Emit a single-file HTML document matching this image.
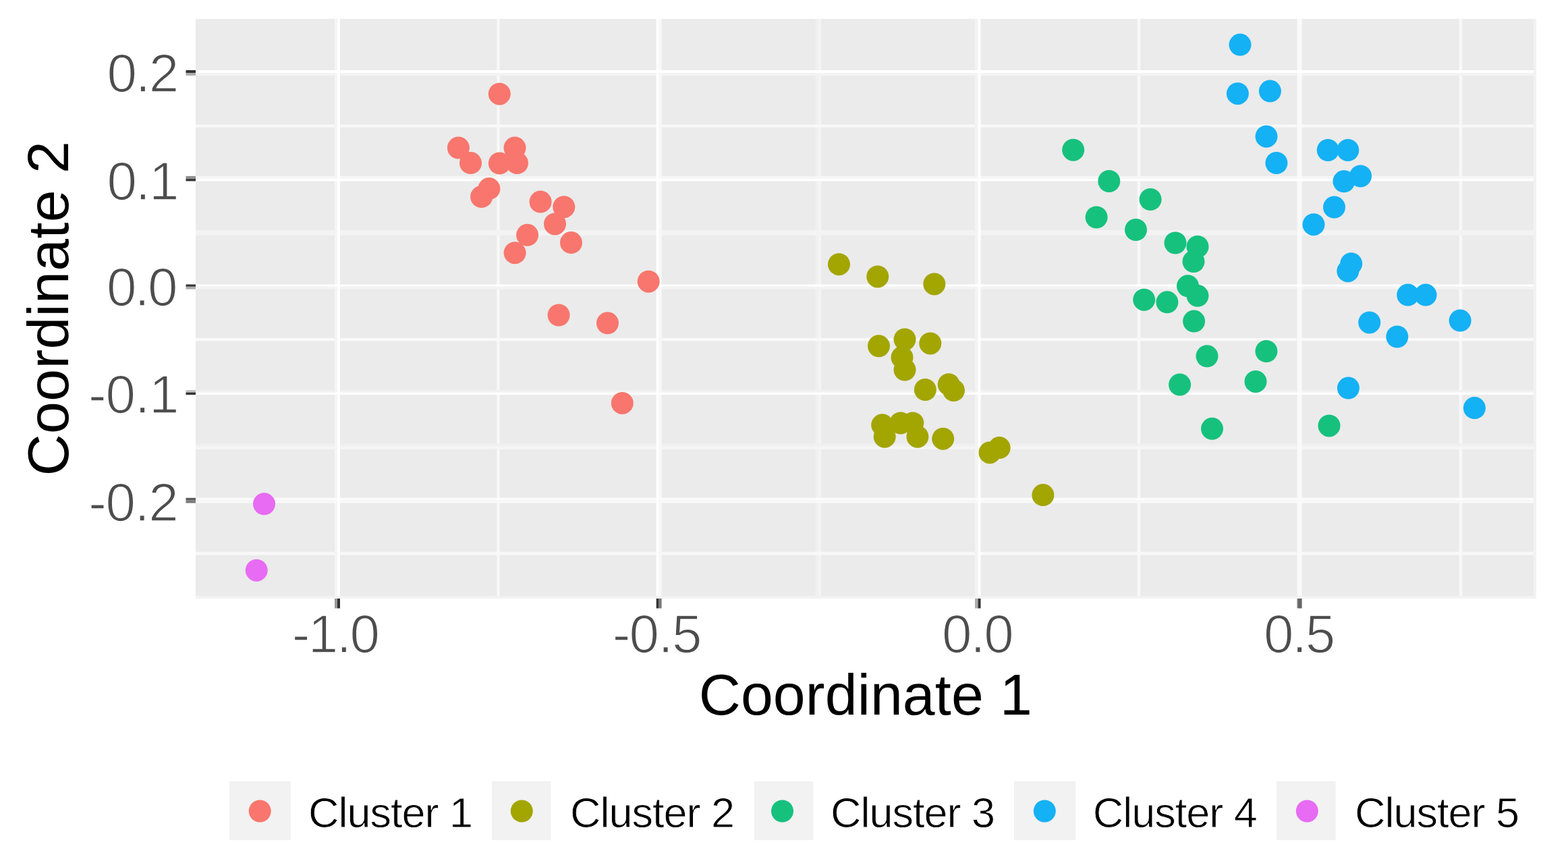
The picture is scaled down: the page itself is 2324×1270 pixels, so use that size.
<!DOCTYPE html>
<html><head><meta charset="utf-8"><title>Coordinate plot</title>
<style>html,body{margin:0;padding:0;background:#fff;}body{width:2324px;height:1270px;overflow:hidden;}svg{display:block;}text{font-family:"Liberation Sans",Arial,sans-serif;}</style>
</head><body>
<svg width="2324" height="1270" viewBox="0 0 2324 1270">
<rect x="0" y="0" width="2324" height="1270" fill="#FFFFFF"/>
<rect x="290" y="28" width="1987" height="859" fill="#EBEBEB"/>
<rect x="2273" y="28" width="4" height="859" fill="#F2F2F2"/>
<rect x="290" y="883" width="1987" height="4" fill="#F2F2F2"/>
<rect x="736.0" y="28" width="2.0" height="855" fill="#F5F5F5"/>
<rect x="738.0" y="28" width="2.4" height="855" fill="#FAFAFA"/>
<rect x="1208.6" y="28" width="4.1" height="855" fill="#F0F0F0"/>
<rect x="1212.7" y="28" width="4.5" height="855" fill="#F4F4F4"/>
<rect x="1685.8" y="28" width="4.5" height="855" fill="#F8F8F8"/>
<rect x="2161.9" y="28" width="1.1" height="855" fill="#EFEFEF"/>
<rect x="2163.0" y="28" width="4.2" height="855" fill="#F8F8F8"/>
<rect x="290" y="184.6" width="1983" height="4.2" fill="#F9F9F9"/>
<rect x="290" y="340.9" width="1983" height="8.0" fill="#F3F3F3"/>
<rect x="290" y="500.9" width="1983" height="4.3" fill="#F9F9F9"/>
<rect x="290" y="657.3" width="1983" height="4.2" fill="#F0F0F0"/>
<rect x="290" y="661.5" width="1983" height="4.3" fill="#F5F5F5"/>
<rect x="290" y="817.8" width="1983" height="4.8" fill="#F8F8F8"/>
<rect x="496.0" y="28" width="4.0" height="855" fill="#F5F5F5"/>
<rect x="500.0" y="28" width="4.0" height="855" fill="#FFFFFF"/>
<rect x="972.7" y="28" width="3.3" height="855" fill="#FFFFFF"/>
<rect x="976.0" y="28" width="4.0" height="855" fill="#F8F8F8"/>
<rect x="980.0" y="28" width="1.0" height="855" fill="#F3F3F3"/>
<rect x="1445.0" y="28" width="4.5" height="855" fill="#F3F3F3"/>
<rect x="1449.5" y="28" width="4.0" height="855" fill="#FFFFFF"/>
<rect x="1922.0" y="28" width="1.2" height="855" fill="#F2F2F2"/>
<rect x="1923.2" y="28" width="6.4" height="855" fill="#FAFAFA"/>
<rect x="290" y="104.0" width="1983" height="4.0" fill="#FFFFFF"/>
<rect x="290" y="108.0" width="1983" height="4.0" fill="#F3F3F3"/>
<rect x="290" y="260.9" width="1983" height="4.2" fill="#F6F6F6"/>
<rect x="290" y="265.1" width="1983" height="3.3" fill="#FFFFFF"/>
<rect x="290" y="421.5" width="1983" height="3.3" fill="#FFFFFF"/>
<rect x="290" y="424.8" width="1983" height="3.8" fill="#F3F3F3"/>
<rect x="290" y="578.0" width="1983" height="3.5" fill="#F1F1F1"/>
<rect x="290" y="581.5" width="1983" height="3.5" fill="#FFFFFF"/>
<rect x="290" y="737.8" width="1983" height="3.7" fill="#FBFBFB"/>
<rect x="290" y="741.5" width="1983" height="4.0" fill="#F8F8F8"/>
<rect x="496.0" y="104.0" width="4.0" height="4.0" fill="#FFFFFF"/>
<rect x="496.0" y="108.0" width="4.0" height="4.0" fill="#F5F5F5"/>
<rect x="500.0" y="104.0" width="4.0" height="4.0" fill="#FFFFFF"/>
<rect x="500.0" y="108.0" width="4.0" height="4.0" fill="#FFFFFF"/>
<rect x="496.0" y="260.9" width="4.0" height="4.2" fill="#F6F6F6"/>
<rect x="496.0" y="265.1" width="4.0" height="3.3" fill="#FFFFFF"/>
<rect x="500.0" y="260.9" width="4.0" height="4.2" fill="#FFFFFF"/>
<rect x="500.0" y="265.1" width="4.0" height="3.3" fill="#FFFFFF"/>
<rect x="496.0" y="421.5" width="4.0" height="3.3" fill="#FFFFFF"/>
<rect x="496.0" y="424.8" width="4.0" height="3.8" fill="#F5F5F5"/>
<rect x="500.0" y="421.5" width="4.0" height="3.3" fill="#FFFFFF"/>
<rect x="500.0" y="424.8" width="4.0" height="3.8" fill="#FFFFFF"/>
<rect x="496.0" y="578.0" width="4.0" height="3.5" fill="#F5F5F5"/>
<rect x="496.0" y="581.5" width="4.0" height="3.5" fill="#FFFFFF"/>
<rect x="500.0" y="578.0" width="4.0" height="3.5" fill="#FFFFFF"/>
<rect x="500.0" y="581.5" width="4.0" height="3.5" fill="#FFFFFF"/>
<rect x="496.0" y="737.8" width="4.0" height="3.7" fill="#FBFBFB"/>
<rect x="496.0" y="741.5" width="4.0" height="4.0" fill="#F8F8F8"/>
<rect x="500.0" y="737.8" width="4.0" height="3.7" fill="#FFFFFF"/>
<rect x="500.0" y="741.5" width="4.0" height="4.0" fill="#FFFFFF"/>
<rect x="972.7" y="104.0" width="3.3" height="4.0" fill="#FFFFFF"/>
<rect x="972.7" y="108.0" width="3.3" height="4.0" fill="#FFFFFF"/>
<rect x="976.0" y="104.0" width="4.0" height="4.0" fill="#FFFFFF"/>
<rect x="976.0" y="108.0" width="4.0" height="4.0" fill="#F8F8F8"/>
<rect x="980.0" y="104.0" width="1.0" height="4.0" fill="#FFFFFF"/>
<rect x="980.0" y="108.0" width="1.0" height="4.0" fill="#F3F3F3"/>
<rect x="972.7" y="260.9" width="3.3" height="4.2" fill="#FFFFFF"/>
<rect x="972.7" y="265.1" width="3.3" height="3.3" fill="#FFFFFF"/>
<rect x="976.0" y="260.9" width="4.0" height="4.2" fill="#F8F8F8"/>
<rect x="976.0" y="265.1" width="4.0" height="3.3" fill="#FFFFFF"/>
<rect x="980.0" y="260.9" width="1.0" height="4.2" fill="#F6F6F6"/>
<rect x="980.0" y="265.1" width="1.0" height="3.3" fill="#FFFFFF"/>
<rect x="972.7" y="421.5" width="3.3" height="3.3" fill="#FFFFFF"/>
<rect x="972.7" y="424.8" width="3.3" height="3.8" fill="#FFFFFF"/>
<rect x="976.0" y="421.5" width="4.0" height="3.3" fill="#FFFFFF"/>
<rect x="976.0" y="424.8" width="4.0" height="3.8" fill="#F8F8F8"/>
<rect x="980.0" y="421.5" width="1.0" height="3.3" fill="#FFFFFF"/>
<rect x="980.0" y="424.8" width="1.0" height="3.8" fill="#F3F3F3"/>
<rect x="972.7" y="578.0" width="3.3" height="3.5" fill="#FFFFFF"/>
<rect x="972.7" y="581.5" width="3.3" height="3.5" fill="#FFFFFF"/>
<rect x="976.0" y="578.0" width="4.0" height="3.5" fill="#F8F8F8"/>
<rect x="976.0" y="581.5" width="4.0" height="3.5" fill="#FFFFFF"/>
<rect x="980.0" y="578.0" width="1.0" height="3.5" fill="#F3F3F3"/>
<rect x="980.0" y="581.5" width="1.0" height="3.5" fill="#FFFFFF"/>
<rect x="972.7" y="737.8" width="3.3" height="3.7" fill="#FFFFFF"/>
<rect x="972.7" y="741.5" width="3.3" height="4.0" fill="#FFFFFF"/>
<rect x="976.0" y="737.8" width="4.0" height="3.7" fill="#FBFBFB"/>
<rect x="976.0" y="741.5" width="4.0" height="4.0" fill="#F8F8F8"/>
<rect x="980.0" y="737.8" width="1.0" height="3.7" fill="#FBFBFB"/>
<rect x="980.0" y="741.5" width="1.0" height="4.0" fill="#F8F8F8"/>
<rect x="1445.0" y="104.0" width="4.5" height="4.0" fill="#FFFFFF"/>
<rect x="1445.0" y="108.0" width="4.5" height="4.0" fill="#F3F3F3"/>
<rect x="1449.5" y="104.0" width="4.0" height="4.0" fill="#FFFFFF"/>
<rect x="1449.5" y="108.0" width="4.0" height="4.0" fill="#FFFFFF"/>
<rect x="1445.0" y="260.9" width="4.5" height="4.2" fill="#F6F6F6"/>
<rect x="1445.0" y="265.1" width="4.5" height="3.3" fill="#FFFFFF"/>
<rect x="1449.5" y="260.9" width="4.0" height="4.2" fill="#FFFFFF"/>
<rect x="1449.5" y="265.1" width="4.0" height="3.3" fill="#FFFFFF"/>
<rect x="1445.0" y="421.5" width="4.5" height="3.3" fill="#FFFFFF"/>
<rect x="1445.0" y="424.8" width="4.5" height="3.8" fill="#F3F3F3"/>
<rect x="1449.5" y="421.5" width="4.0" height="3.3" fill="#FFFFFF"/>
<rect x="1449.5" y="424.8" width="4.0" height="3.8" fill="#FFFFFF"/>
<rect x="1445.0" y="578.0" width="4.5" height="3.5" fill="#F3F3F3"/>
<rect x="1445.0" y="581.5" width="4.5" height="3.5" fill="#FFFFFF"/>
<rect x="1449.5" y="578.0" width="4.0" height="3.5" fill="#FFFFFF"/>
<rect x="1449.5" y="581.5" width="4.0" height="3.5" fill="#FFFFFF"/>
<rect x="1445.0" y="737.8" width="4.5" height="3.7" fill="#FBFBFB"/>
<rect x="1445.0" y="741.5" width="4.5" height="4.0" fill="#F8F8F8"/>
<rect x="1449.5" y="737.8" width="4.0" height="3.7" fill="#FFFFFF"/>
<rect x="1449.5" y="741.5" width="4.0" height="4.0" fill="#FFFFFF"/>
<rect x="1922.0" y="104.0" width="1.2" height="4.0" fill="#FFFFFF"/>
<rect x="1922.0" y="108.0" width="1.2" height="4.0" fill="#F3F3F3"/>
<rect x="1923.2" y="104.0" width="6.4" height="4.0" fill="#FFFFFF"/>
<rect x="1923.2" y="108.0" width="6.4" height="4.0" fill="#FAFAFA"/>
<rect x="1922.0" y="260.9" width="1.2" height="4.2" fill="#F6F6F6"/>
<rect x="1922.0" y="265.1" width="1.2" height="3.3" fill="#FFFFFF"/>
<rect x="1923.2" y="260.9" width="6.4" height="4.2" fill="#FAFAFA"/>
<rect x="1923.2" y="265.1" width="6.4" height="3.3" fill="#FFFFFF"/>
<rect x="1922.0" y="421.5" width="1.2" height="3.3" fill="#FFFFFF"/>
<rect x="1922.0" y="424.8" width="1.2" height="3.8" fill="#F3F3F3"/>
<rect x="1923.2" y="421.5" width="6.4" height="3.3" fill="#FFFFFF"/>
<rect x="1923.2" y="424.8" width="6.4" height="3.8" fill="#FAFAFA"/>
<rect x="1922.0" y="578.0" width="1.2" height="3.5" fill="#F2F2F2"/>
<rect x="1922.0" y="581.5" width="1.2" height="3.5" fill="#FFFFFF"/>
<rect x="1923.2" y="578.0" width="6.4" height="3.5" fill="#FAFAFA"/>
<rect x="1923.2" y="581.5" width="6.4" height="3.5" fill="#FFFFFF"/>
<rect x="1922.0" y="737.8" width="1.2" height="3.7" fill="#FBFBFB"/>
<rect x="1922.0" y="741.5" width="1.2" height="4.0" fill="#F8F8F8"/>
<rect x="1923.2" y="737.8" width="6.4" height="3.7" fill="#FBFBFB"/>
<rect x="1923.2" y="741.5" width="6.4" height="4.0" fill="#FAFAFA"/>
<g fill="#F8766D">
<circle cx="740.3" cy="139.2" r="16.50"/>
<circle cx="679.4" cy="219.1" r="16.50"/>
<circle cx="697.5" cy="241.6" r="16.50"/>
<circle cx="763.0" cy="219.1" r="16.50"/>
<circle cx="740.4" cy="242.0" r="16.50"/>
<circle cx="766.5" cy="241.6" r="16.50"/>
<circle cx="724.9" cy="279.6" r="16.50"/>
<circle cx="713.6" cy="291.6" r="16.50"/>
<circle cx="801.1" cy="299.1" r="16.50"/>
<circle cx="835.8" cy="306.7" r="16.50"/>
<circle cx="822.5" cy="331.9" r="16.50"/>
<circle cx="846.5" cy="359.6" r="16.50"/>
<circle cx="781.6" cy="348.3" r="16.50"/>
<circle cx="763.1" cy="374.7" r="16.50"/>
<circle cx="961.2" cy="417.2" r="16.50"/>
<circle cx="828.1" cy="467.0" r="16.50"/>
<circle cx="900.5" cy="478.8" r="16.50"/>
<circle cx="922.3" cy="597.4" r="16.50"/>
</g>
<g fill="#A3A500">
<circle cx="1243.5" cy="391.7" r="16.50"/>
<circle cx="1300.8" cy="409.9" r="16.50"/>
<circle cx="1384.8" cy="420.9" r="16.50"/>
<circle cx="1302.5" cy="512.8" r="16.50"/>
<circle cx="1341.0" cy="503.0" r="16.50"/>
<circle cx="1337.0" cy="529.6" r="16.50"/>
<circle cx="1341.0" cy="548.0" r="16.50"/>
<circle cx="1378.8" cy="508.9" r="16.50"/>
<circle cx="1371.3" cy="577.5" r="16.50"/>
<circle cx="1406.2" cy="569.7" r="16.50"/>
<circle cx="1413.5" cy="578.5" r="16.50"/>
<circle cx="1307.7" cy="629.8" r="16.50"/>
<circle cx="1311.2" cy="647.2" r="16.50"/>
<circle cx="1334.8" cy="626.9" r="16.50"/>
<circle cx="1352.8" cy="626.9" r="16.50"/>
<circle cx="1359.9" cy="647.2" r="16.50"/>
<circle cx="1397.7" cy="650.2" r="16.50"/>
<circle cx="1467.0" cy="670.7" r="16.50"/>
<circle cx="1481.2" cy="663.6" r="16.50"/>
<circle cx="1545.9" cy="733.6" r="16.50"/>
</g>
<g fill="#16C17D">
<circle cx="1590.7" cy="222.2" r="16.50"/>
<circle cx="1643.8" cy="268.5" r="16.50"/>
<circle cx="1705.1" cy="295.5" r="16.50"/>
<circle cx="1625.1" cy="322.0" r="16.50"/>
<circle cx="1683.5" cy="340.5" r="16.50"/>
<circle cx="1742.0" cy="360.0" r="16.50"/>
<circle cx="1775.0" cy="365.5" r="16.50"/>
<circle cx="1769.0" cy="387.5" r="16.50"/>
<circle cx="1760.5" cy="423.8" r="16.50"/>
<circle cx="1775.0" cy="438.3" r="16.50"/>
<circle cx="1695.7" cy="444.2" r="16.50"/>
<circle cx="1729.9" cy="447.8" r="16.50"/>
<circle cx="1769.6" cy="476.1" r="16.50"/>
<circle cx="1789.0" cy="527.8" r="16.50"/>
<circle cx="1876.9" cy="520.5" r="16.50"/>
<circle cx="1748.6" cy="570.1" r="16.50"/>
<circle cx="1861.0" cy="565.4" r="16.50"/>
<circle cx="1796.5" cy="635.3" r="16.50"/>
<circle cx="1970.0" cy="630.9" r="16.50"/>
</g>
<g fill="#14B1F5">
<circle cx="1838.0" cy="66.3" r="16.50"/>
<circle cx="1834.4" cy="138.7" r="16.50"/>
<circle cx="1882.4" cy="135.1" r="16.50"/>
<circle cx="1877.0" cy="202.2" r="16.50"/>
<circle cx="1891.9" cy="241.5" r="16.50"/>
<circle cx="1968.2" cy="222.5" r="16.50"/>
<circle cx="1997.8" cy="222.5" r="16.50"/>
<circle cx="1991.9" cy="268.8" r="16.50"/>
<circle cx="2016.5" cy="260.9" r="16.50"/>
<circle cx="1977.5" cy="307.1" r="16.50"/>
<circle cx="1947.0" cy="332.7" r="16.50"/>
<circle cx="2002.7" cy="390.8" r="16.50"/>
<circle cx="1997.8" cy="401.7" r="16.50"/>
<circle cx="2086.7" cy="437.1" r="16.50"/>
<circle cx="2113.0" cy="437.1" r="16.50"/>
<circle cx="2029.7" cy="477.9" r="16.50"/>
<circle cx="2070.8" cy="499.0" r="16.50"/>
<circle cx="2164.1" cy="475.1" r="16.50"/>
<circle cx="1998.4" cy="575.1" r="16.50"/>
<circle cx="2185.4" cy="604.6" r="16.50"/>
</g>
<g fill="#E76BF3">
<circle cx="391.5" cy="746.8" r="16.50"/>
<circle cx="380.2" cy="845.2" r="16.50"/>
</g>
<rect x="275.5" y="104.0" width="14.5" height="4.0" fill="#333333"/>
<rect x="275.5" y="108.0" width="14.5" height="4.0" fill="#ADADAD"/>
<rect x="275.5" y="260.9" width="14.5" height="4.2" fill="#8F8F8F"/>
<rect x="275.5" y="265.1" width="14.5" height="3.3" fill="#333333"/>
<rect x="275.5" y="421.5" width="14.5" height="3.3" fill="#333333"/>
<rect x="275.5" y="424.8" width="14.5" height="3.8" fill="#ADADAD"/>
<rect x="275.5" y="578.0" width="14.5" height="3.5" fill="#C2C2C2"/>
<rect x="275.5" y="581.5" width="14.5" height="3.5" fill="#333333"/>
<rect x="275.5" y="737.8" width="14.5" height="3.7" fill="#5C5C5C"/>
<rect x="275.5" y="741.5" width="14.5" height="4.0" fill="#7A7A7A"/>
<rect x="496.0" y="887" width="4.0" height="14.5" fill="#999999"/>
<rect x="500.0" y="887" width="4.0" height="14.5" fill="#333333"/>
<rect x="972.7" y="887" width="3.3" height="14.5" fill="#333333"/>
<rect x="976.0" y="887" width="4.0" height="14.5" fill="#7A7A7A"/>
<rect x="980.0" y="887" width="1.0" height="14.5" fill="#ADADAD"/>
<rect x="1445.0" y="887" width="4.5" height="14.5" fill="#ADADAD"/>
<rect x="1449.5" y="887" width="4.0" height="14.5" fill="#333333"/>
<rect x="1922.0" y="887" width="1.2" height="14.5" fill="#B8B8B8"/>
<rect x="1923.2" y="887" width="6.4" height="14.5" fill="#666666"/>
<g stroke="#FFFFFF" stroke-width="1.60">
<text x="158.47" y="135.50" font-size="80" fill="#4D4D4D" textLength="106.85" lengthAdjust="spacing">0.2</text>
<text x="158.47" y="295.50" font-size="80" fill="#4D4D4D" textLength="106.91" lengthAdjust="spacing">0.1</text>
<text x="157.88" y="452.50" font-size="80" fill="#4D4D4D" textLength="105.55" lengthAdjust="spacing">0.0</text>
<text x="130.95" y="612.10" font-size="80" fill="#4D4D4D" textLength="134.64" lengthAdjust="spacing">-0.1</text>
<text x="131.15" y="772.10" font-size="80" fill="#4D4D4D" textLength="133.68" lengthAdjust="spacing">-0.2</text>
<text x="432.65" y="967.00" font-size="80" fill="#4D4D4D" textLength="130.28" lengthAdjust="spacing">-1.0</text>
<text x="907.65" y="967.00" font-size="80" fill="#4D4D4D" textLength="132.81" lengthAdjust="spacing">-0.5</text>
<text x="1396.08" y="967.00" font-size="80" fill="#4D4D4D" textLength="106.65" lengthAdjust="spacing">0.0</text>
<text x="1872.88" y="967.00" font-size="80" fill="#4D4D4D" textLength="106.28" lengthAdjust="spacing">0.5</text>
</g>
<g>
<text x="1035.63" y="1058.50" font-size="86" fill="#000000" textLength="494.16" lengthAdjust="spacing">Coordinate 1</text>
<text transform="rotate(-90)" x="-705.37" y="100.5" font-size="86" fill="#000000" textLength="496.29" lengthAdjust="spacing">Coordinate 2</text>
</g>
<rect x="340.0" y="1157.6" width="91.0" height="87.5" fill="#F2F2F2"/>
<circle cx="385.2" cy="1202" r="16.50" fill="#F8766D"/>
<rect x="728.9" y="1157.6" width="87.6" height="87.5" fill="#F2F2F2"/>
<circle cx="773.3" cy="1202" r="16.50" fill="#A3A500"/>
<rect x="1117.8" y="1157.6" width="87.5" height="87.5" fill="#F2F2F2"/>
<circle cx="1159.5" cy="1202" r="16.50" fill="#16C17D"/>
<rect x="1503.0" y="1157.6" width="91.4" height="87.5" fill="#F2F2F2"/>
<circle cx="1548.3" cy="1202" r="16.50" fill="#14B1F5"/>
<rect x="1892.1" y="1157.6" width="87.5" height="87.5" fill="#F2F2F2"/>
<circle cx="1937.3" cy="1202" r="16.50" fill="#E76BF3"/>
<g stroke="#FFFFFF" stroke-width="0.80">
<text x="457.00" y="1225.7" font-size="63" fill="#000000" textLength="244" lengthAdjust="spacing">Cluster 1</text>
<text x="845.10" y="1225.7" font-size="63" fill="#000000" textLength="244" lengthAdjust="spacing">Cluster 2</text>
<text x="1231.10" y="1225.7" font-size="63" fill="#000000" textLength="244" lengthAdjust="spacing">Cluster 3</text>
<text x="1619.80" y="1225.7" font-size="63" fill="#000000" textLength="244" lengthAdjust="spacing">Cluster 4</text>
<text x="2008.10" y="1225.7" font-size="63" fill="#000000" textLength="244" lengthAdjust="spacing">Cluster 5</text>
</g>
</svg>
</body></html>
